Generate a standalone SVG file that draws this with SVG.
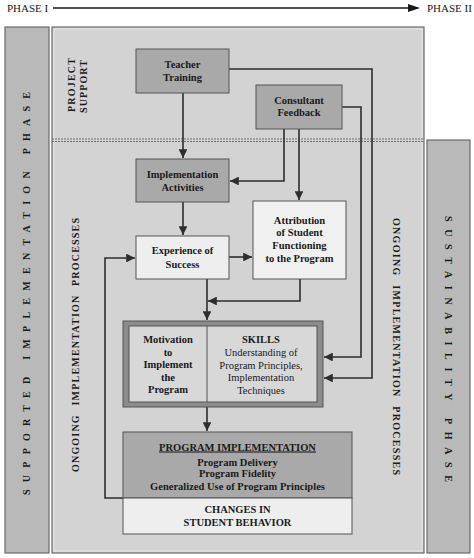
<svg xmlns="http://www.w3.org/2000/svg" width="474" height="558" viewBox="0 0 474 558">
<style>
.t{font-family:"Liberation Serif","Times New Roman",serif;fill:#1a1a1a}
.b{font-weight:bold}
.n{font-size:10.5px;text-anchor:middle}
.side{font-size:10px;font-weight:bold}
.panel{stroke:#6a6a6a;stroke-width:1.2}
.box{stroke:#555;stroke-width:1}
.c{fill:none;stroke:#2e2e2e;stroke-width:1.6}
</style>
<defs>
<marker id="ah" viewBox="0 0 10 10" refX="10" refY="5" markerWidth="5.5" markerHeight="5.5" orient="auto" markerUnits="strokeWidth">
<path d="M0,0 L10,5 L0,10 Z" fill="#2e2e2e"/>
</marker>
</defs>
<rect width="474" height="558" fill="#ffffff"/>

<g id="phase-axis">
<text class="t" x="7" y="12" font-size="11">PHASE I</text>
<line x1="53" y1="8" x2="418" y2="8" stroke="#1a1a1a" stroke-width="1.3"/>
<path d="M408,4 L420,8 L408,12 Z" fill="#1a1a1a"/>
<text class="t" x="427" y="12" font-size="11">PHASE II</text>
</g>

<g id="supported-phase">
<rect class="panel" x="5" y="27" width="44" height="526" fill="#b9b9b9"/>
<text class="t side" transform="translate(30,495) rotate(-90)" textLength="403" lengthAdjust="spacing">SUPPORTED IMPLEMENTATION PHASE</text>
</g>

<g id="main-panel">
<rect class="panel" x="52" y="27" width="372" height="526" fill="#d3d3d3"/>
<rect x="54" y="29" width="368" height="522" fill="none" stroke="#ececec" stroke-width="0.8"/>
<line x1="52" y1="139" x2="424" y2="139" stroke="#555" stroke-width="0.8" stroke-dasharray="2 1"/>
<line x1="52" y1="141.5" x2="424" y2="141.5" stroke="#555" stroke-width="0.8" stroke-dasharray="2 1"/>
<text class="t side" transform="translate(75,112) rotate(-90)" textLength="54" lengthAdjust="spacing">PROJECT</text>
<text class="t side" transform="translate(87,113) rotate(-90)" textLength="53" lengthAdjust="spacing">SUPPORT</text>
<text class="t side" transform="translate(79,472) rotate(-90)" textLength="254" lengthAdjust="spacing" word-spacing="5">ONGOING IMPLEMENTATION PROCESSES</text>
<text class="t side" transform="translate(393,218) rotate(90)" textLength="257" lengthAdjust="spacing" word-spacing="5">ONGOING IMPLEMENTATION PROCESSES</text>
</g>

<g id="sustainability-phase">
<rect class="panel" x="427" y="140" width="43" height="413" fill="#b9b9b9"/>
<text class="t side" transform="translate(445,216) rotate(90)" textLength="266" lengthAdjust="spacing">SUSTAINABILITY PHASE</text>
</g>

<g id="connectors">
<polyline class="c" points="229,69 372,69 372,378 324,378" marker-end="url(#ah)"/>
<polyline class="c" points="342,107 361,107 361,357 324,357" marker-end="url(#ah)"/>
<polyline class="c" points="284,129 284,181 230,181" marker-end="url(#ah)"/>
<line class="c" x1="299" y1="129" x2="299" y2="200" marker-end="url(#ah)"/>
<line class="c" x1="183" y1="93" x2="183" y2="158" marker-end="url(#ah)"/>
<line class="c" x1="183" y1="202" x2="183" y2="235" marker-end="url(#ah)"/>
<line class="c" x1="229" y1="257" x2="252" y2="257" marker-end="url(#ah)"/>
<line class="c" x1="207" y1="279" x2="207" y2="320" marker-end="url(#ah)"/>
<polyline class="c" points="300,279 300,301 208,301" marker-end="url(#ah)"/>
<line class="c" x1="207" y1="407" x2="207" y2="431" marker-end="url(#ah)"/>
<polyline class="c" points="123,498 105,498 105,258 135,258" marker-end="url(#ah)"/>
</g>

<g id="teacher-training">
<rect class="box" x="136" y="49" width="93" height="44" fill="#a9a9a9"/>
<text class="t b n" x="182.5" y="67.5">Teacher</text>
<text class="t b n" x="182.5" y="81">Training</text>
</g>

<g id="consultant-feedback">
<rect class="box" x="256" y="85" width="86" height="44" fill="#a9a9a9"/>
<text class="t b n" x="299" y="103.5">Consultant</text>
<text class="t b n" x="299" y="116">Feedback</text>
</g>

<g id="implementation-activities">
<rect class="box" x="136" y="159" width="93" height="43" fill="#a9a9a9"/>
<text class="t b n" x="182.5" y="178">Implementation</text>
<text class="t b n" x="182.5" y="190.5">Activities</text>
</g>

<g id="attribution">
<rect class="box" x="253" y="201" width="93" height="78" fill="#f0f0f0"/>
<text class="t b n" x="299.5" y="224">Attribution</text>
<text class="t b n" x="299.5" y="236">of Student</text>
<text class="t b n" x="299.5" y="248.5">Functioning</text>
<text class="t b n" x="299.5" y="261.5">to the Program</text>
</g>

<g id="experience-of-success">
<rect class="box" x="136" y="236" width="93" height="43" fill="#eeeeee"/>
<text class="t b n" x="182.5" y="253.5">Experience of</text>
<text class="t b n" x="182.5" y="267.5">Success</text>
</g>

<g id="motivation-skills">
<rect class="box" x="123" y="321" width="200" height="86" fill="#8c8c8c"/>
<rect class="box" x="129" y="326" width="188" height="76" fill="#d8d8d8"/>
<line x1="207" y1="326" x2="207" y2="402" stroke="#555" stroke-width="1"/>
<text class="t b n" x="168" y="342.5">Motivation</text>
<text class="t b n" x="168" y="355.5">to</text>
<text class="t b n" x="168" y="368">Implement</text>
<text class="t b n" x="168" y="380.5">the</text>
<text class="t b n" x="168" y="393">Program</text>
<text class="t b n" x="261" y="342.5">SKILLS</text>
<text class="t n" x="261" y="355.5">Understanding of</text>
<text class="t n" x="261" y="368.5">Program Principles,</text>
<text class="t n" x="261" y="381">Implementation</text>
<text class="t n" x="261" y="393.5">Techniques</text>
</g>

<g id="program-implementation">
<rect class="box" x="123" y="432" width="229" height="66" fill="#a9a9a9"/>
<text class="t b n" x="237.5" y="450.5" text-decoration="underline">PROGRAM IMPLEMENTATION</text>
<text class="t b n" x="237.5" y="465.5">Program Delivery</text>
<text class="t b n" x="237.5" y="477">Program Fidelity</text>
<text class="t b n" x="237.5" y="489.5">Generalized Use of Program Principles</text>
</g>

<g id="changes-in-student-behavior">
<rect class="box" x="123" y="498" width="229" height="36" fill="#eeeeee"/>
<text class="t b n" x="237.5" y="512.5">CHANGES IN</text>
<text class="t b n" x="237.5" y="525.5">STUDENT BEHAVIOR</text>
</g>
</svg>
